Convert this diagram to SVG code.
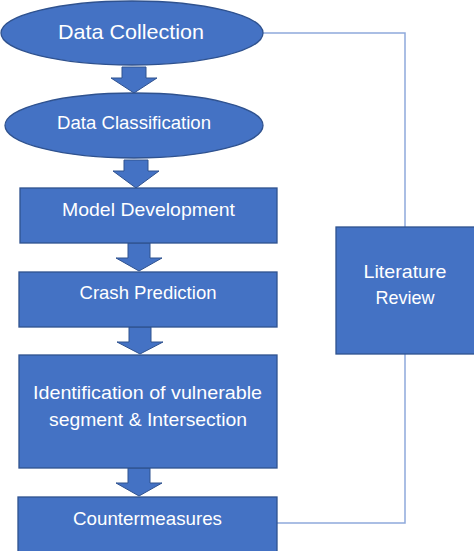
<svg xmlns="http://www.w3.org/2000/svg" width="474" height="551" viewBox="0 0 474 551">
<style>
.shape{fill:#4472C4;stroke:#2F528F;stroke-width:1.3}
.arrow{fill:#4472C4;stroke:#2F528F;stroke-width:1}
.conn{fill:none;stroke:#8EA9DB;stroke-width:1.5}
text{font-family:"Liberation Sans","Open Sans",Arial,sans-serif;fill:#FFFFFF;text-anchor:middle}
</style>
<rect width="474" height="551" fill="#FFFFFF"/>
<g id="connectors">
<path class="conn" d="M263,33 H405 V227"/>
<path class="conn" d="M405,354 V523 H277"/>
<path class="arrow" d="M122,67 H146 V78 H157 L134,93 L111,78 H122 Z"/>
<path class="arrow" d="M124,160 H148 V171 H159 L136,188 L113,171 H124 Z"/>
<path class="arrow" d="M128,243 H150 V258 H162 L139,271 L116,258 H128 Z"/>
<path class="arrow" d="M129,327 H151 V342 H163 L140,354 L117,342 H129 Z"/>
<path class="arrow" d="M128,468 H150 V483 H162 L139,496 L116,483 H128 Z"/>
</g>
<g id="data-collection">
<ellipse class="shape" cx="132" cy="33" rx="131" ry="32"/>
<text x="131" y="39" font-size="21" textLength="146" lengthAdjust="spacingAndGlyphs">Data Collection</text>
</g>
<g id="data-classification">
<ellipse class="shape" cx="134" cy="125.5" rx="129" ry="32.5"/>
<text x="134" y="129" font-size="18.5" textLength="154" lengthAdjust="spacingAndGlyphs">Data Classification</text>
</g>
<g id="model-development">
<rect class="shape" x="20" y="188" width="257" height="55"/>
<text x="148.5" y="216" font-size="19" textLength="173" lengthAdjust="spacingAndGlyphs">Model Development</text>
</g>
<g id="crash-prediction">
<rect class="shape" x="19" y="272" width="258" height="55"/>
<text x="148" y="299" font-size="19" textLength="137" lengthAdjust="spacingAndGlyphs">Crash Prediction</text>
</g>
<g id="identification">
<rect class="shape" x="19" y="355" width="258" height="113"/>
<text x="147.5" y="399" font-size="19" textLength="229" lengthAdjust="spacingAndGlyphs">Identification of vulnerable</text>
<text x="148" y="426" font-size="19" textLength="198" lengthAdjust="spacingAndGlyphs">segment &amp; Intersection</text>
</g>
<g id="countermeasures">
<rect class="shape" x="18" y="497" width="259" height="60"/>
<text x="147.5" y="525" font-size="19" textLength="149" lengthAdjust="spacingAndGlyphs">Countermeasures</text>
</g>
<g id="literature-review">
<rect class="shape" x="336" y="227" width="140" height="127"/>
<text x="405" y="278" font-size="19" textLength="83" lengthAdjust="spacingAndGlyphs">Literature</text>
<text x="405" y="304" font-size="19" textLength="59" lengthAdjust="spacingAndGlyphs">Review</text>
</g>
</svg>
